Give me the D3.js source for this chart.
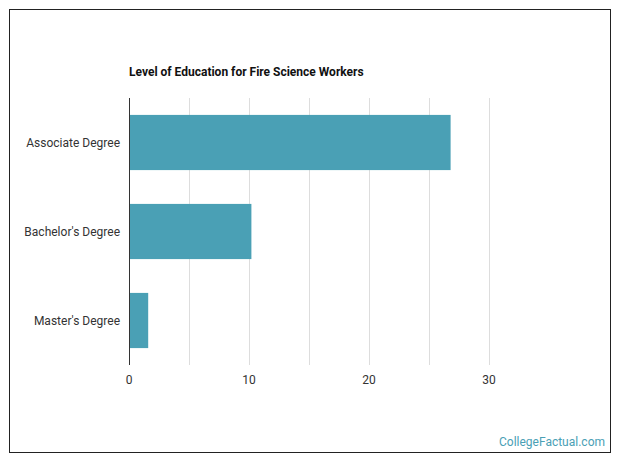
<!DOCTYPE html>
<html><head><meta charset="utf-8">
<script src="https://d3js.org/d3.v7.min.js"></script>
<style>body{margin:0;background:#fff;font-family:Roboto,sans-serif}</style>
</head><body>
<script>
const categories = ["Associate Degree", "Bachelor's Degree", "Master's Degree"];
const values = [26.8, 10.2, 1.6];
const ticks = [0, 10, 20, 30];

const svg = d3.select("body").append("svg").attr("width", 620).attr("height", 465);
svg.append("rect").attr("x", 9.5).attr("y", 9.5).attr("width", 601).attr("height", 443)
  .attr("fill", "#fff").attr("stroke", "#222").attr("stroke-width", 1);

const x = d3.scaleLinear().domain([0, 30]).range([129, 489]);
const y = d3.scaleBand().domain(categories).range([98, 365]).paddingInner(0.38).paddingOuter(0.19);

svg.append("text").attr("x", 129).attr("y", 76).attr("font-size", 12).attr("font-weight", "bold")
  .attr("fill", "#111").text("Level of Education for Fire Science Workers");

const grid = d3.range(0, 31, 5);
svg.selectAll(".g").data(grid).enter().append("line")
  .attr("x1", d => x(d)).attr("x2", d => x(d)).attr("y1", 98).attr("y2", 365)
  .attr("stroke", d => d === 0 ? "#333" : "#ddd").attr("stroke-width", 1)
  .attr("shape-rendering", "crispEdges");

svg.selectAll(".bar").data(values).enter().append("rect")
  .attr("x", x(0) + 1).attr("y", (d, i) => y(categories[i]))
  .attr("width", d => x(d) - x(0) - 1).attr("height", y.bandwidth())
  .attr("fill", "#4aa0b5");

svg.selectAll(".cl").data(categories).enter().append("text")
  .attr("x", 120).attr("y", d => y(d) + y.bandwidth() / 2 + 4)
  .attr("text-anchor", "end").attr("font-size", 12).attr("fill", "#333").text(d => d);

svg.selectAll(".tl").data(ticks).enter().append("text")
  .attr("x", d => x(d)).attr("y", 384).attr("text-anchor", "middle")
  .attr("font-size", 12).attr("fill", "#333").text(d => d);

svg.append("text").attr("x", 605).attr("y", 446).attr("text-anchor", "end")
  .attr("font-size", 12).attr("fill", "#4aa0b5").text("CollegeFactual.com");
</script>
</body></html>
